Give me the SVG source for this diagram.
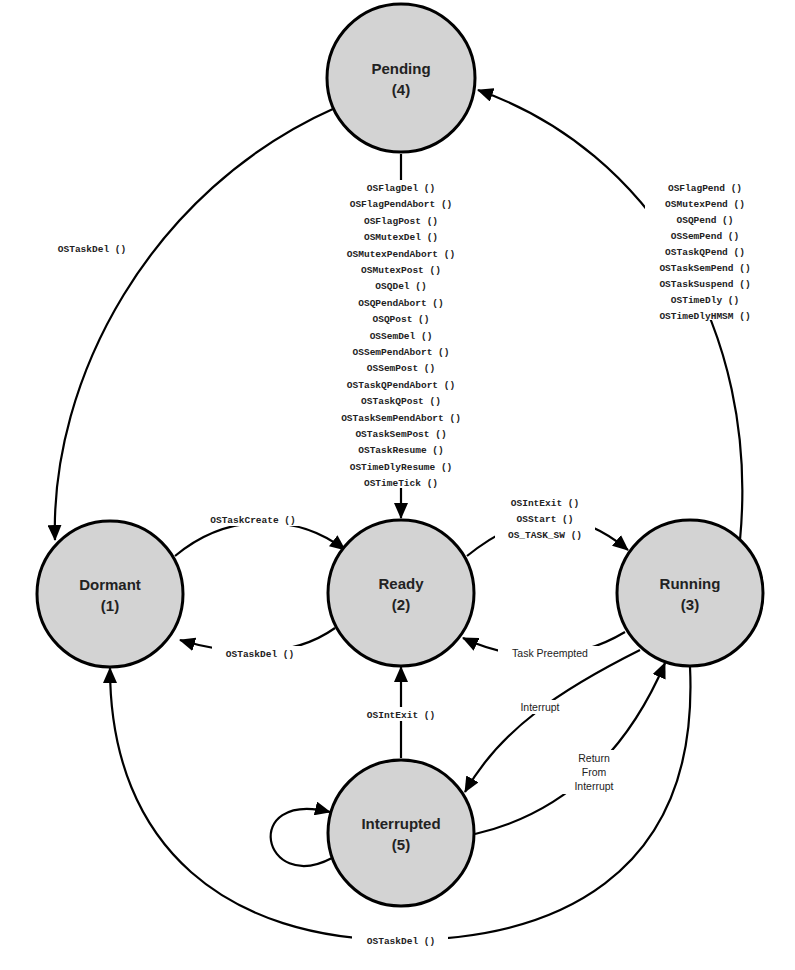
<svg xmlns="http://www.w3.org/2000/svg" width="795" height="970" viewBox="0 0 795 970">
<style>
.n{fill:#d3d3d3;stroke:#000;stroke-width:3}
.t{font-family:"Liberation Sans",Arial,sans-serif;font-weight:bold;font-size:15px;fill:#222;text-anchor:middle}
.c{fill:none;stroke:#000;stroke-width:2.2}
.m{font-family:"Liberation Mono","Courier New",monospace;font-weight:bold;font-size:9.5px;fill:#222;text-anchor:middle}
.s{font-family:"Liberation Sans",Arial,sans-serif;font-size:10.5px;fill:#222;text-anchor:middle}
.bg{fill:#fff}
</style>
<defs>
<marker id="a" markerWidth="16" markerHeight="14" refX="15" refY="7" orient="auto" markerUnits="userSpaceOnUse">
<path d="M0,0 L16,7 L0,14 Z" fill="#000"/>
</marker>
</defs>
<rect width="795" height="970" fill="#fff"/>
<g id="connectors">
<path class="c" d="M335,108 C150,190 50,380 55,540" marker-end="url(#a)"/>
<path class="c" d="M740,540 C760,330 650,150 478,90" marker-end="url(#a)"/>
<path class="c" d="M401,154 L401,518" marker-end="url(#a)"/>
<path class="c" d="M175,556 C230,510 300,515 345,550" marker-end="url(#a)"/>
<path class="c" d="M335,628 C290,660 230,655 180,640" marker-end="url(#a)"/>
<path class="c" d="M467,556 C530,505 580,510 628,550" marker-end="url(#a)"/>
<path class="c" d="M625,632 C570,665 510,660 463,638" marker-end="url(#a)"/>
<path class="c" d="M401,758 L401,667" marker-end="url(#a)"/>
<path class="c" d="M640,650 C560,690 500,730 465,792" marker-end="url(#a)"/>
<path class="c" d="M475,834 C570,812 630,745 665,663" marker-end="url(#a)"/>
<path class="c" d="M332,858 C262,895 240,790 330,812" marker-end="url(#a)"/>
<path class="c" d="M690,667 C700,880 550,940 400,940 C230,940 110,850 110,668" marker-end="url(#a)"/>
<rect class="bg" x="325" y="180" width="152" height="308"/>
<rect class="bg" x="645" y="180" width="120" height="140"/>
<rect class="bg" x="48" y="241" width="90" height="14"/>
<rect class="bg" x="198" y="512" width="110" height="14"/>
<rect class="bg" x="212" y="646" width="96" height="14"/>
<rect class="bg" x="495" y="495" width="100" height="48"/>
<rect class="bg" x="498" y="646" width="104" height="14"/>
<rect class="bg" x="352" y="707" width="98" height="14"/>
<rect class="bg" x="510" y="700" width="60" height="14"/>
<rect class="bg" x="562" y="750" width="64" height="44"/>
<rect class="bg" x="352" y="933" width="96" height="14"/>
</g>
<g class="m">
<text x="92" y="252">OSTaskDel ()</text>
<text x="253" y="523">OSTaskCreate ()</text>
<text x="260" y="657">OSTaskDel ()</text>
<text x="545" y="506">OSIntExit ()</text>
<text x="545" y="522">OSStart ()</text>
<text x="545" y="538">OS_TASK_SW ()</text>
<text x="401" y="718">OSIntExit ()</text>
<text x="401" y="944">OSTaskDel ()</text>
<text x="401" y="191">OSFlagDel ()</text>
<text x="401" y="207.4">OSFlagPendAbort ()</text>
<text x="401" y="223.8">OSFlagPost ()</text>
<text x="401" y="240.2">OSMutexDel ()</text>
<text x="401" y="256.6">OSMutexPendAbort ()</text>
<text x="401" y="273">OSMutexPost ()</text>
<text x="401" y="289.4">OSQDel ()</text>
<text x="401" y="305.8">OSQPendAbort ()</text>
<text x="401" y="322.2">OSQPost ()</text>
<text x="401" y="338.6">OSSemDel ()</text>
<text x="401" y="355">OSSemPendAbort ()</text>
<text x="401" y="371.4">OSSemPost ()</text>
<text x="401" y="387.8">OSTaskQPendAbort ()</text>
<text x="401" y="404.2">OSTaskQPost ()</text>
<text x="401" y="420.6">OSTaskSemPendAbort ()</text>
<text x="401" y="437">OSTaskSemPost ()</text>
<text x="401" y="453.4">OSTaskResume ()</text>
<text x="401" y="469.8">OSTimeDlyResume ()</text>
<text x="401" y="486.2">OSTimeTick ()</text>
<text x="705" y="191">OSFlagPend ()</text>
<text x="705" y="207">OSMutexPend ()</text>
<text x="705" y="223">OSQPend ()</text>
<text x="705" y="239">OSSemPend ()</text>
<text x="705" y="255">OSTaskQPend ()</text>
<text x="705" y="271">OSTaskSemPend ()</text>
<text x="705" y="287">OSTaskSuspend ()</text>
<text x="705" y="303">OSTimeDly ()</text>
<text x="705" y="319">OSTimeDlyHMSM ()</text>
</g>
<g class="s">
<text x="550" y="657">Task Preempted</text>
<text x="540" y="711">Interrupt</text>
<text x="594" y="762">Return</text>
<text x="594" y="776">From</text>
<text x="594" y="790">Interrupt</text>
</g>
<g id="pending"><circle class="n" cx="401" cy="78" r="74"/><text class="t" x="401" y="74">Pending</text><text class="t" x="401" y="95">(4)</text></g>
<g id="dormant"><circle class="n" cx="110" cy="594" r="73"/><text class="t" x="110" y="590">Dormant</text><text class="t" x="110" y="611">(1)</text></g>
<g id="ready"><circle class="n" cx="401" cy="593" r="73"/><text class="t" x="401" y="589">Ready</text><text class="t" x="401" y="610">(2)</text></g>
<g id="running"><circle class="n" cx="690" cy="593" r="73"/><text class="t" x="690" y="589">Running</text><text class="t" x="690" y="610">(3)</text></g>
<g id="interrupted"><circle class="n" cx="401" cy="833" r="73"/><text class="t" x="401" y="829">Interrupted</text><text class="t" x="401" y="850">(5)</text></g>
</svg>
